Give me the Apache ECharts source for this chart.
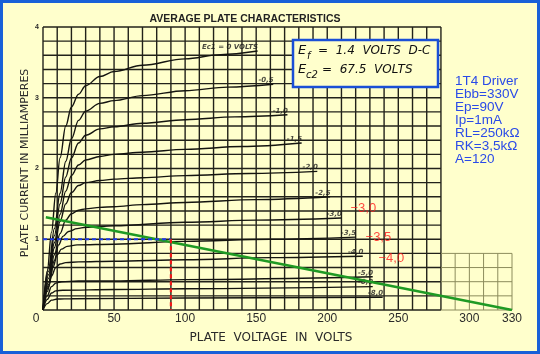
<!DOCTYPE html>
<html>
<head>
<meta charset="utf-8">
<script src="https://cdn.jsdelivr.net/npm/echarts@6/dist/echarts.min.js"></script>
<style>
  html, body { margin: 0; padding: 0; background: #ffffcc; }
  #chart { width: 540px; height: 354px; }
</style>
</head>
<body>
<div id="chart"></div>
<script>
// axis labels
const xLabels = [0, 50, 100, 150, 200, 250, 300, 330];
const yLabels = [1, 2, 3, 4];

// plate curves [plate volts, plate mA], one per grid bias
const curveNames = ['Ec1 = 0 VOLTS', '-0,5', '-1,0', '-1,5', '-2,0', '-2,5', '-3,0', '-3,5', '-4,0', '-5,0', '-6,0', '-8,0'];
const ec0 = [[0,0],[3,0.55],[6,1.1],[9,1.65],[12,2.15],[16,2.6],[20,2.87],[25,3.05],[30,3.17],[40,3.3],[50,3.37],[70,3.46],[100,3.55],[125,3.61],[151,3.66]];
const ec05 = [[0,0],[4,0.6],[8,1.15],[12,1.65],[16,2.1],[20,2.42],[25,2.68],[30,2.81],[40,2.92],[50,2.96],[70,3.03],[100,3.1],[130,3.15],[162,3.19]];
const ec10 = [[0,0],[4,0.55],[8,1.05],[12,1.5],[16,1.88],[20,2.15],[25,2.36],[30,2.47],[40,2.56],[50,2.59],[70,2.64],[100,2.69],[135,2.73],[172,2.76]];
const ec15 = [[0,0],[4,0.5],[8,0.95],[12,1.35],[16,1.68],[20,1.9],[25,2.05],[30,2.12],[40,2.17],[50,2.2],[70,2.23],[100,2.27],[140,2.31],[182,2.36]];
const ec20 = [[0,0],[4,0.45],[8,0.88],[12,1.25],[16,1.5],[20,1.66],[25,1.76],[30,1.8],[40,1.83],[50,1.85],[70,1.87],[100,1.9],[145,1.93],[193,1.96]];
const ec25 = [[0,0],[4,0.4],[8,0.78],[12,1.08],[16,1.27],[20,1.36],[25,1.41],[30,1.43],[40,1.45],[50,1.46],[70,1.49],[100,1.52],[150,1.56],[202,1.6]];
const ec30 = [[0,0],[4,0.36],[8,0.7],[11,0.92],[14,1.04],[18,1.11],[24,1.15],[30,1.17],[50,1.19],[100,1.24],[150,1.27],[210,1.3]];
const ec35 = [[0,0],[4,0.33],[7,0.6],[10,0.78],[13,0.86],[17,0.9],[24,0.92],[50,0.93],[100,0.97],[160,1.0],[220,1.03]];
const ec40 = [[0,0],[3,0.26],[6,0.48],[9,0.6],[12,0.65],[16,0.67],[25,0.68],[50,0.69],[100,0.71],[160,0.74],[225,0.76]];
const ec50 = [[0,0],[3,0.2],[6,0.33],[9,0.38],[13,0.4],[25,0.41],[50,0.41],[100,0.43],[232,0.47]];
const ec60 = [[0,0],[3,0.15],[6,0.24],[9,0.27],[14,0.28],[50,0.29],[100,0.3],[232,0.33]];
const ec80 = [[0,0],[3,0.09],[6,0.14],[10,0.155],[20,0.16],[100,0.17],[239,0.18]];
const curves = [ec0, ec05, ec10, ec15, ec20, ec25, ec30, ec35, ec40, ec50, ec60, ec80];

// load line, operating point
const loadLine = [[2, 1.312], [330, 0]];
const opCurrent = [[0, 1], [90, 1]];
const opVoltage = [[90, 1], [90, 0]];

// red bias notes
const redNames = ['\u22123,0', '\u22123,5', '\u22124,0'];
const redPos = [[216, 1.44], [226.6, 1.03], [235.7, 0.735]];

const notes = ['1T4 Driver', 'Ebb=330V', 'Ep=90V', 'Ip=1mA', 'RL=250k\u03a9', 'RK=3,5k\u03a9', 'A=120'];

// chart paper grid segments: [x1, y1, x2, y2, isExtension]
const segs = [];
for (let v = 0; v <= 280; v += 10) segs.push([v, 0, v, 4, 0]);
for (let i = 0; i <= 20; i++) segs.push([0, i * 0.2, 280, i * 0.2, 0]);
for (let v = 290; v <= 330; v += 10) segs.push([v, 0, v, 0.8, 1]);
for (let i = 0; i <= 4; i++) segs.push([280, i * 0.2, 330, i * 0.2, 1]);

const chart = echarts.init(document.getElementById('chart'), null, { renderer: 'canvas' });

const curveSeries = curves.map(c => ({
  type: 'line',
  data: c,
  smooth: 0.35,
  smoothMonotone: 'x',
  showSymbol: false,
  silent: true,
  z: 3,
  lineStyle: { color: '#141410', width: 1.4 }
}));

const option = {
  animation: false,
  backgroundColor: '#ffffcc',
  grid: { left: 43, right: 28, top: 27, bottom: 44 },
  xAxis: {
    type: 'value', min: 0, max: 330, interval: 10,
    axisLine: { show: false }, axisTick: { show: false }, splitLine: { show: false },
    axisLabel: {
      margin: 3, fontSize: 12, color: '#2a2a2a', fontFamily: 'Liberation Sans',
      formatter: v => v === 0 ? '{z|0}' : (xLabels.includes(v) ? String(v) : ''),
      rich: { z: { fontSize: 12, color: '#2a2a2a', padding: [0, 14, 0, 0] } }
    }
  },
  yAxis: {
    type: 'value', min: 0, max: 4, interval: 1,
    axisLine: { show: false }, axisTick: { show: false }, splitLine: { show: false },
    axisLabel: {
      margin: 4, fontSize: 7, fontWeight: 'bold', color: '#2a2a2a',
      formatter: v => yLabels.includes(v) ? String(v) : ''
    }
  },
  series: [
    {
      type: 'custom',
      data: segs,
      encode: { x: [0, 2], y: [1, 3] },
      silent: true,
      z: 1,
      renderItem: (params, api) => {
        const p1 = api.coord([api.value(0), api.value(1)]);
        const p2 = api.coord([api.value(2), api.value(3)]);
        const ext = api.value(4);
        return {
          type: 'line',
          shape: { x1: p1[0], y1: p1[1], x2: p2[0], y2: p2[1] },
          style: { stroke: ext ? '#8c8c5c' : '#22221a', lineWidth: ext ? 1 : 1.4 }
        };
      }
    },
    ...curveSeries,
    {
      type: 'scatter',
      symbolSize: 1,
      itemStyle: { color: 'rgba(0,0,0,0)' },
      silent: true,
      z: 4,
      data: curves.map((c, i) => ({ value: c[c.length - 1], name: curveNames[i] })),
      label: {
        show: true, position: 'insideBottomRight', distance: 0, offset: [0, -1],
        formatter: p => p.name, fontSize: 7, fontStyle: 'italic', fontWeight: 'bold', color: '#1a1a1a',
        fontFamily: 'DejaVu Sans'
      }
    },
    {
      type: 'line', data: loadLine, showSymbol: false, silent: true, z: 5,
      lineStyle: { color: '#1f9a24', width: 2.5 }
    },
    {
      type: 'line', data: opCurrent, showSymbol: false, silent: true, z: 6,
      lineStyle: { color: '#1e3ae6', width: 2.2, type: [4, 3] }
    },
    {
      type: 'line', data: opVoltage, showSymbol: false, silent: true, z: 6,
      lineStyle: { color: '#f01818', width: 2.2, type: [4, 3] }
    },
    {
      type: 'scatter',
      symbolSize: 1,
      itemStyle: { color: 'rgba(0,0,0,0)' },
      silent: true,
      z: 6,
      data: redPos.map((p, i) => ({ value: p, name: redNames[i] })),
      label: {
        show: true, position: 'right', distance: 0,
        formatter: p => p.name, fontSize: 13, color: '#ff1a1a', fontFamily: 'Liberation Sans'
      }
    }
  ],
  graphic: [
    {
      type: 'rect', z: 100, silent: true,
      shape: { x: 1.5, y: 1.5, width: 537, height: 351 },
      style: { fill: null, stroke: '#1860d8', lineWidth: 3 }
    },
    {
      type: 'text', x: 245, y: 19, z: 100,
      style: { text: 'AVERAGE PLATE CHARACTERISTICS', align: 'center', verticalAlign: 'middle',
        fontSize: 10.5, fontWeight: 'bold', fontFamily: 'Liberation Sans', fill: '#222' }
    },
    {
      type: 'text', x: 271, y: 338, z: 100,
      style: { text: 'PLATE  VOLTAGE  IN  VOLTS', align: 'center', verticalAlign: 'middle',
        fontSize: 12, fontFamily: 'DejaVu Sans', fill: '#2a2a2a' }
    },
    {
      type: 'text', x: 25, y: 163, rotation: Math.PI / 2, z: 100,
      style: { text: 'PLATE CURRENT IN MILLIAMPERES', align: 'center', verticalAlign: 'middle',
        fontSize: 11, fontFamily: 'DejaVu Sans', fill: '#2a2a2a' }
    },
    {
      type: 'rect', z: 100, silent: true,
      shape: { x: 293, y: 40, width: 145, height: 47 },
      style: { fill: '#ffffcc', stroke: '#1a4fd6', lineWidth: 2.5 }
    },
    { type: 'text', x: 298, y: 51, z: 101,
      style: { text: 'E', verticalAlign: 'middle', fontSize: 13, fontStyle: 'italic', fontFamily: 'DejaVu Sans', fill: '#111' } },
    { type: 'text', x: 307, y: 56, z: 101,
      style: { text: 'f', verticalAlign: 'middle', fontSize: 10, fontStyle: 'italic', fontFamily: 'DejaVu Sans', fill: '#111' } },
    { type: 'text', x: 318, y: 51, z: 101,
      style: { text: '=  1.4  VOLTS  D-C', verticalAlign: 'middle', fontSize: 12, fontStyle: 'italic', fontFamily: 'DejaVu Sans', fill: '#111' } },
    { type: 'text', x: 298, y: 70, z: 101,
      style: { text: 'E', verticalAlign: 'middle', fontSize: 13, fontStyle: 'italic', fontFamily: 'DejaVu Sans', fill: '#111' } },
    { type: 'text', x: 306, y: 75, z: 101,
      style: { text: 'c2', verticalAlign: 'middle', fontSize: 10, fontStyle: 'italic', fontFamily: 'DejaVu Sans', fill: '#111' } },
    { type: 'text', x: 322, y: 70, z: 101,
      style: { text: '=  67.5  VOLTS', verticalAlign: 'middle', fontSize: 12, fontStyle: 'italic', fontFamily: 'DejaVu Sans', fill: '#111' } },
    {
      type: 'text', x: 455, y: 75, z: 100,
      style: { text: notes.join('\n'), verticalAlign: 'top', lineHeight: 13,
        fontSize: 13.5, fontFamily: 'Liberation Sans', fill: '#2a4ae8' }
    }
  ]
};

chart.setOption(option);
</script>
</body>
</html>
